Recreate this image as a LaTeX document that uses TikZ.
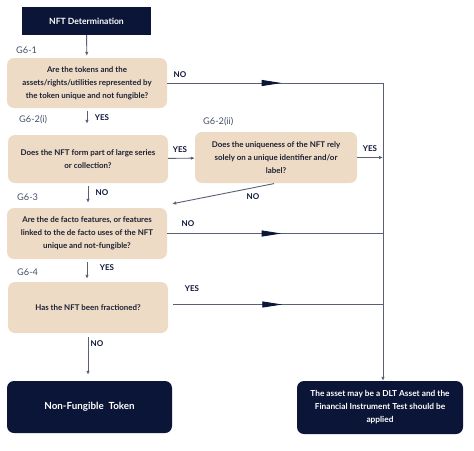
\documentclass[tikz,border=0pt]{standalone}
\usepackage{fontspec}
\setmainfont{Lato}
\usetikzlibrary{arrows.meta,positioning,calc,decorations.markings}
\definecolor{FlowNavy}{HTML}{0B1537}
\definecolor{FlowSand}{HTML}{EEDBC5}
\definecolor{FlowLine}{HTML}{5A5F73}
\definecolor{FlowTag}{HTML}{44506A}
\definecolor{FlowInk}{HTML}{1C2133}

\tikzset{
  question/.style={fill=FlowSand,rounded corners=7pt,minimum width=160pt,
        minimum height=50pt,inner sep=2pt,align=center,text=FlowInk,
        font=\bfseries\fontsize{7.9}{13}\selectfont},
  outcome/.style={fill=FlowNavy,rounded corners=7pt,minimum height=52pt,
        inner sep=2pt,align=center,text=white,
        font=\bfseries\fontsize{9.8}{13}\selectfont},
  tagtext/.style={anchor=west,text=FlowTag,inner sep=0pt,
        font=\fontsize{9.2}{10}\selectfont},
  answer/.style={text=FlowNavy,inner sep=0pt,
        font=\bfseries\fontsize{8}{9}\selectfont},
  flowline/.style={draw=FlowLine,line width=0.9pt},
  flowarrow/.style={flowline,-{Latex[length=4pt,width=3.5pt]}},
  midflag/.style={flowline,postaction={decorate},
        decoration={markings,mark=at position #1 with
        {\arrow[FlowNavy]{Triangle[length=20pt,width=6pt]}}}},
  midflag/.default=0.53
}

\begin{document}
\begin{tikzpicture}[x=1pt,y=-1pt]
  \useasboundingbox (0,0) rectangle (474,450);

  % Start and question boxes.
  \node[outcome,rounded corners=0pt,minimum width=129pt,minimum height=28pt,
        font=\bfseries\fontsize{8.6}{9}\selectfont] (title) at (86.5,21)
        {NFT Determination};
  \node[question] (q1) at (87,83)
        {Are the tokens and the\\assets/rights/utilities represented by\\the token unique and not fungible?};
  \node[question,minimum height=48pt] (q2) at (88,159)
        {Does the NFT form part of large series\\or collection?};
  \node[question,minimum width=162pt,minimum height=51pt] (q3) at (276,157.5)
        {Does the uniqueness of the NFT rely\\solely on a unique identifier and/or\\label?};
  \node[question,minimum height=51pt] (q4) at (87,233.5)
        {Are the de facto features, or features\\linked to the de facto uses of the NFT\\unique and not-fungible?};
  \node[question,minimum height=51pt] (q5) at (88,307.5)
        {Has the NFT been fractioned?};

  % Outcomes.
  \node[outcome,minimum width=165pt] (nft) at (89.5,407)
        {Non-Fungible\ \ Token};
  \node[outcome,minimum width=166pt,minimum height=53pt,
        font=\bfseries\fontsize{8.3}{13}\selectfont] (dlt) at (380,407.5)
        {The asset may be a DLT Asset and the\\Financial Instrument Test should be\\applied};

  % Step tags.
  \node[tagtext] (t1) at (16,50) {G6-1};
  \node[tagtext] (t2) at (19,120) {G6-2(i)};
  \node[tagtext] (t3) at (203,122) {G6-2(ii)};
  \node[tagtext] (t4) at (17,197) {G6-3};
  \node[tagtext] (t5) at (17,272) {G6-4};

  % Main column.
  \draw[flowarrow,shorten >=2pt] (title) -- (q1);
  \draw[flowarrow,shorten <=3pt,shorten >=11pt] (q1) -- (q1 |- q2.north);
  \draw[flowarrow,shorten <=3pt,shorten >=5pt] (q2) -- (q2 |- q4.north);
  \draw[flowarrow,shorten <=3pt,shorten >=3pt] (q4) -- (q4 |- q5.north);
  \draw[flowarrow,shorten <=4pt,shorten >=6pt] (q5) -- (q5 |- nft.north);
  \draw[flowarrow] (q2) -- (q3);
  \draw[flowarrow,shorten <=2pt] (q3.south) -- ($(q4.north east)+(5,-4)$);

  % Right rail to the DLT outcome.
  \coordinate (rail) at (383,84);
  \draw[midflag] (q1.east) -- (q1.east -| rail);
  \draw[flowarrow] (q1.east -| rail) -- (rail |- dlt.north);
  \draw[flowarrow] (q3.east) -- (q3.east -| rail);
  \draw[midflag] (q4.east) -- (q4.east -| rail);
  \draw[midflag=0.52] ([xshift=5pt,yshift=3pt]q5.east) -- ([yshift=3pt]q5.east -| rail);

  % Answers.
  \node[answer] (a1) at (180,75) {NO};
  \node[answer] (a2) at (102,118) {YES};
  \node[answer] (a3) at (180,150) {YES};
  \node[answer] (a4) at (370,149) {YES};
  \node[answer] (a5) at (253,197) {NO};
  \node[answer] (a6) at (102,193) {NO};
  \node[answer] (a7) at (188,224) {NO};
  \node[answer] (a8) at (107,268) {YES};
  \node[answer] (a9) at (192,289) {YES};
  \node[answer] (a10) at (97,344) {NO};
\end{tikzpicture}
\end{document}
